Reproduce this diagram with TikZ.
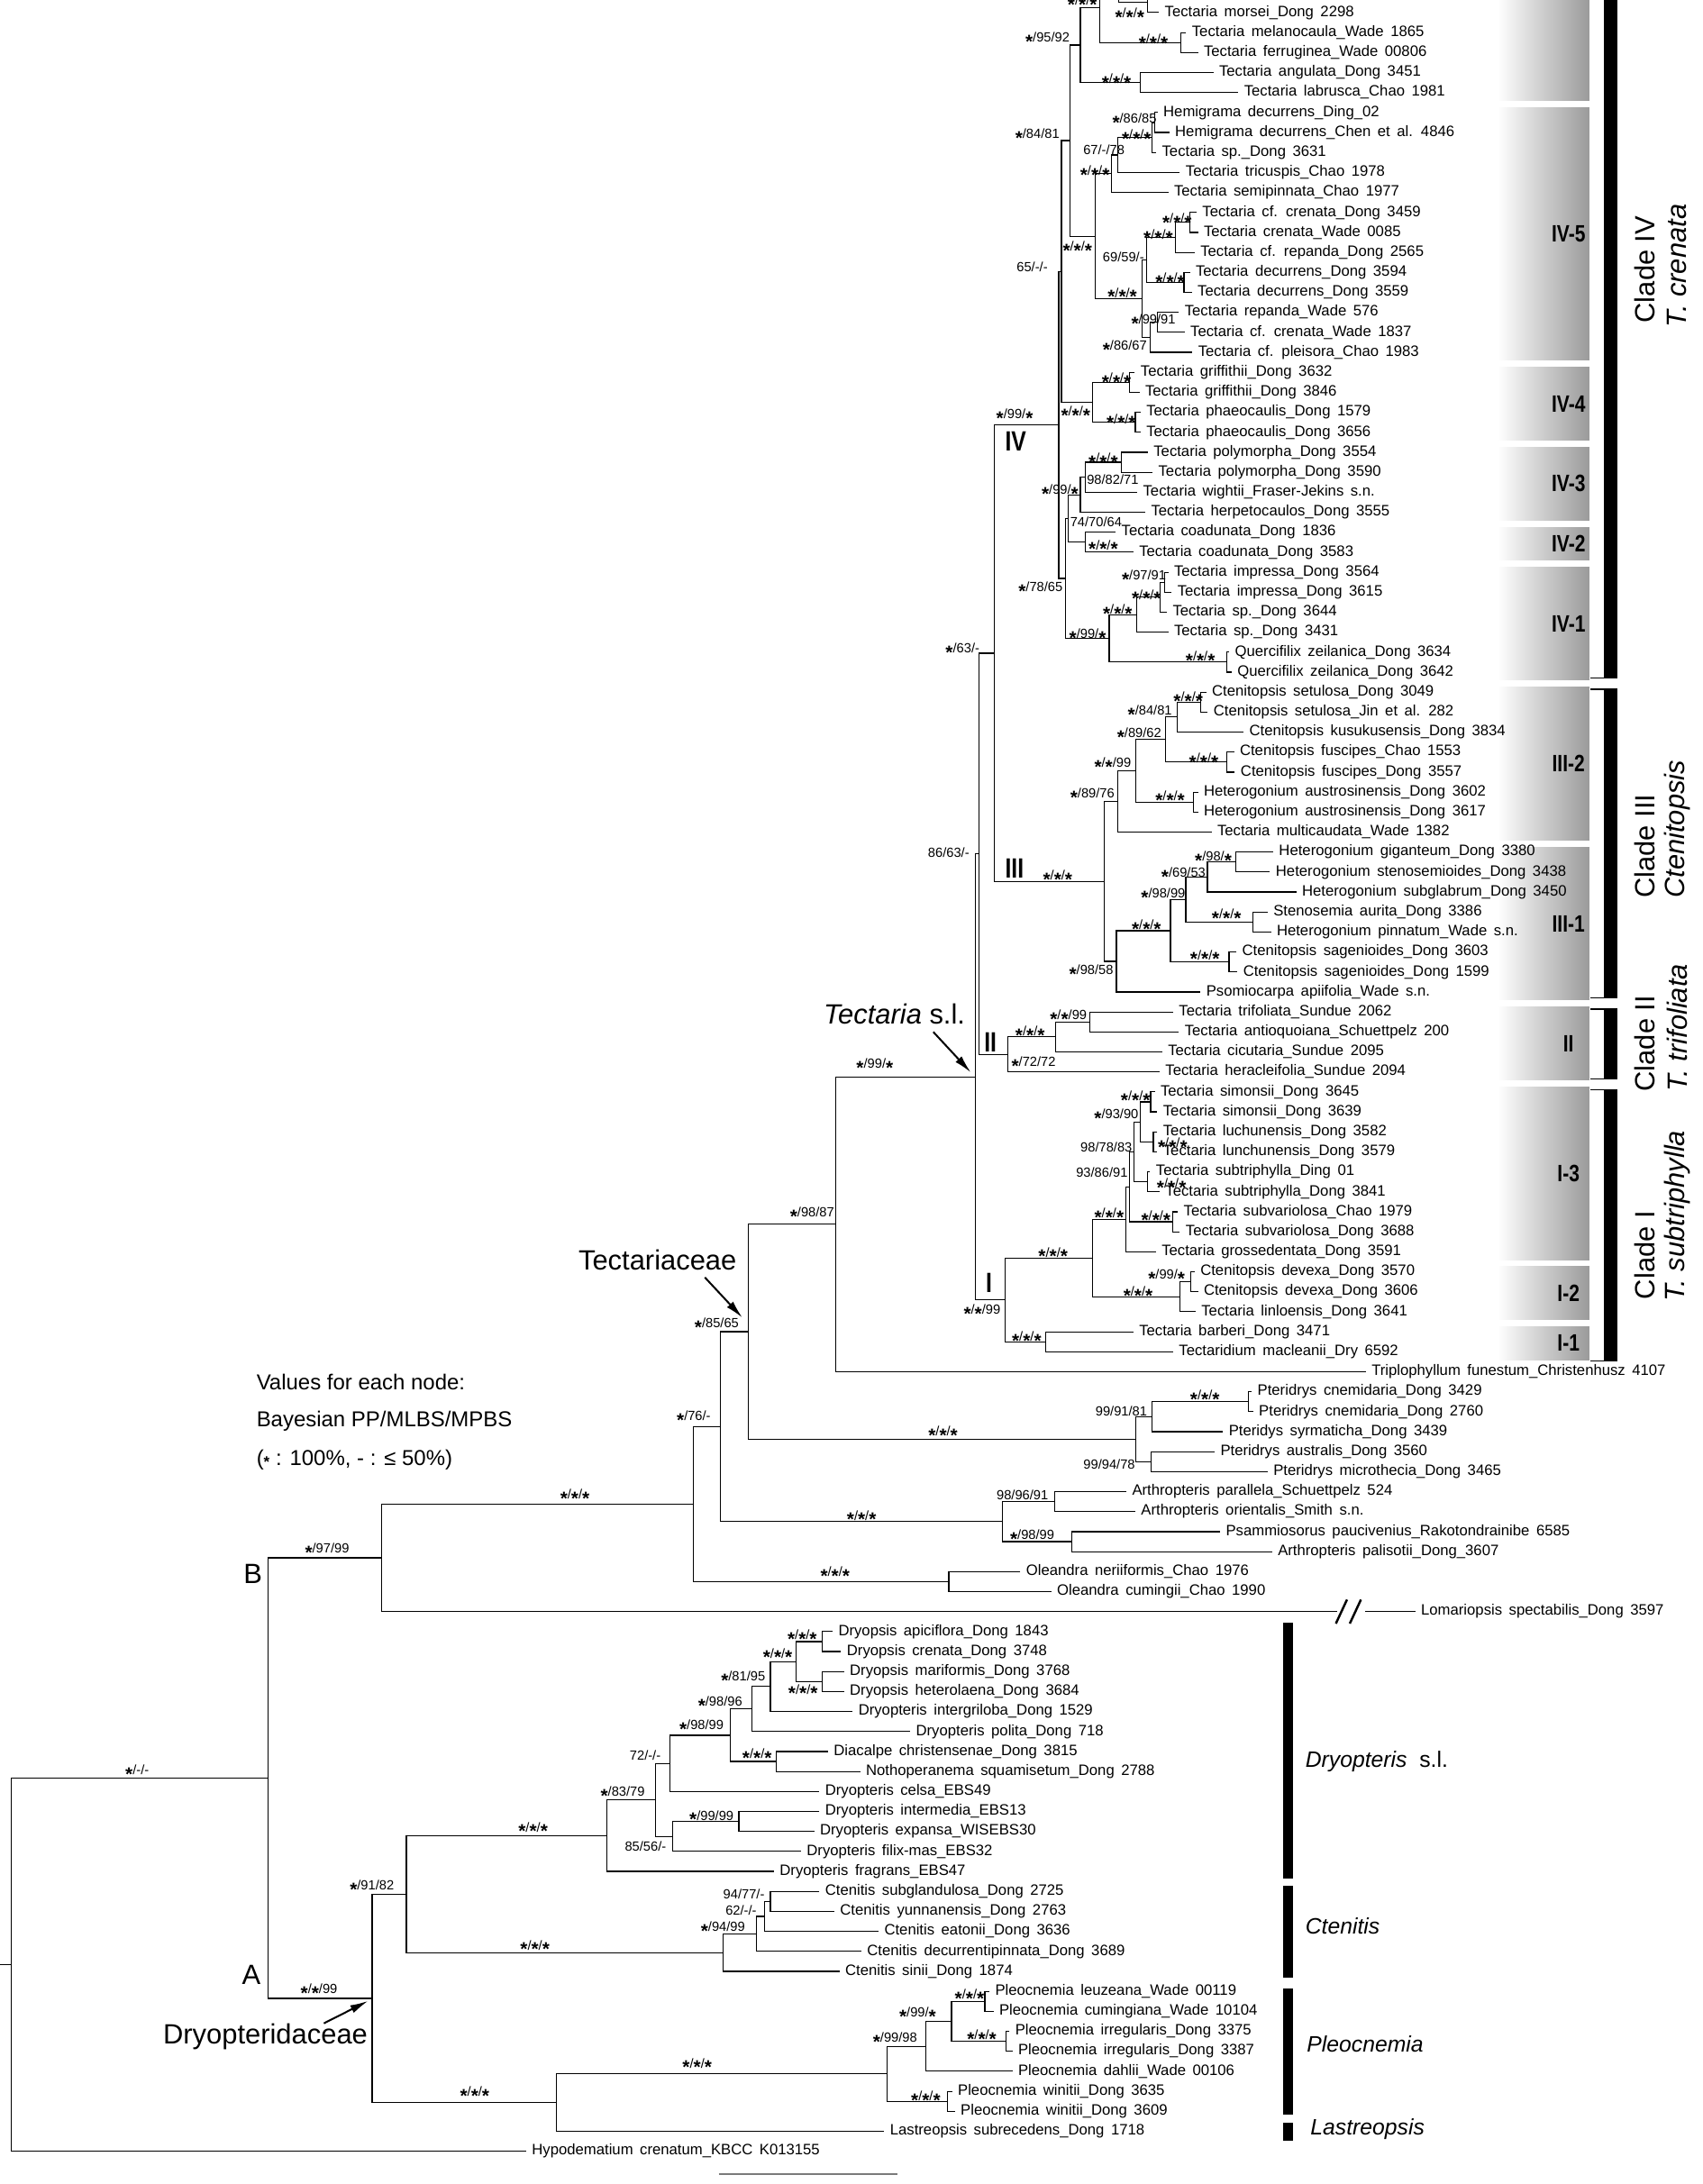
\documentclass[tikz,border=0pt]{standalone}
\usepackage{fontspec}
\setmainfont{Liberation Sans}
\newfontfamily\condfont[FakeStretch=0.8]{Liberation Sans}
\usetikzlibrary{calc, arrows.meta}
\definecolor{BoxGray}{HTML}{9A9A9A}
\definecolor{ScaleGray}{HTML}{7A7A7A}

\newcommand\tipfont{\fontsize{10.8}{12}\selectfont\spaceskip=0.45em plus 0.1em\relax}
\newcommand\st{{\fontsize{13.5}{13.5}\selectfont\bfseries\raisebox{-0.62ex}{*}}}
\newcommand\smallst{{\fontsize{11}{11}\selectfont\bfseries\raisebox{-0.3ex}{*}}}
% tip: name, x of branch end, row, text
\newcommand\tp[4]{\node[tip] (#1) at (#2,#3) {#4};}
% internal node: name, x, first child, last child
\newcommand\nd[4]{%
  \path ($(#3)!.5!(#4)$) coordinate (#1m);
  \coordinate (#1x) at (#2,0);
  \coordinate (#1) at (#1x |- #1m);}
\newcommand\cl[4]{\nd{#1}{#2}{#3}{#4}\draw[branch] (#3) -| (#1) |- (#4);}

\tikzset{
  branch/.style={line width=0.75pt},
  tip/.style={anchor=west, inner xsep=4pt, inner ysep=0pt, text height=7.8pt, text depth=2.3pt, font=\tipfont},
  sup/.style={inner sep=0pt, text height=6.8pt, text depth=0.5pt, font=\fontsize{9.5}{10}\selectfont},
  cladeno/.style={inner sep=0pt, font=\condfont\bfseries\fontsize{20}{20}\selectfont},
  subno/.style={inner sep=0pt, font=\condfont\bfseries\fontsize{17}{17}\selectfont},
  grouplab/.style={inner sep=0pt, font=\fontsize{20}{22}\selectfont},
  sidelab/.style={inner sep=0pt, rotate=90, anchor=west, font=\fontsize{20}{22}\selectfont},
  genlab/.style={inner sep=0pt, anchor=west, font=\itshape\fontsize{16}{18}\selectfont},
  legend/.style={inner sep=0pt, anchor=west, font=\fontsize{15.5}{17}\selectfont},
  pointer/.style={-{Latex[length=13pt,width=6pt]}, line width=1.3pt},
  subbox/.style={left color=white, right color=BoxGray},
  foot/.style={line width=0.9pt}
}

\begin{document}
\begin{tikzpicture}[x=1pt, y=-14.35pt]
\useasboundingbox (0,-0.6272) rectangle (1222,108.64);

% subclade boxes
\shade[subbox] (1075,-1.5) rectangle (1141,4.4);
\shade[subbox] (1075,4.75) rectangle (1141,17.4);
\shade[subbox] (1075,17.75) rectangle (1141,21.4);
\shade[subbox] (1075,21.75) rectangle (1141,25.4);
\shade[subbox] (1075,25.75) rectangle (1141,27.4);
\shade[subbox] (1075,27.75) rectangle (1141,33.4);
\shade[subbox] (1075,33.75) rectangle (1141,41.4);
\shade[subbox] (1075,41.75) rectangle (1141,49.4);
\shade[subbox] (1075,49.75) rectangle (1141,53.4);
\shade[subbox] (1075,53.75) rectangle (1141,62.4);
\shade[subbox] (1075,62.75) rectangle (1141,65.4);
\shade[subbox] (1075,65.75) rectangle (1141,67.4);
\node[subno] (bIV5) at (1126,11.075) {IV-5};
\node[subno] (bIV4) at (1126,19.575) {IV-4};
\node[subno] (bIV3) at (1126,23.575) {IV-3};
\node[subno] (bIV2) at (1126,26.575) {IV-2};
\node[subno] (bIV1) at (1126,30.575) {IV-1};
\node[subno] (bIII2) at (1126,37.575) {III-2};
\node[subno] (bIII1) at (1126,45.575) {III-1};
\node[subno] (bII) at (1126,51.575) {II};
\node[subno] (bI3) at (1126,58.075) {I-3};
\node[subno] (bI2) at (1126,64.075) {I-2};
\node[subno] (bI1) at (1126,66.575) {I-1};

% clade brackets
\fill (1151.5,-1.5) rectangle (1161,33.3);
\draw[foot] (1142,33.3) -- (1161,33.3);
\fill (1151.5,33.85) rectangle (1161,49.3);
\draw[foot] (1142,33.85) -- (1161,33.85) (1142,49.3) -- (1161,49.3);
\fill (1151.5,49.85) rectangle (1161,53.35);
\draw[foot] (1142,49.85) -- (1161,49.85) (1142,53.35) -- (1161,53.35);
\fill (1151.5,53.9) rectangle (1161,67.45);
\draw[foot] (1142,53.9) -- (1161,53.9) (1142,67.45) -- (1161,67.45);
\node[sidelab] (cIV) at (1181,15.54) {Clade IV};
\node[sidelab] (cIVb) at (1204,15.75) {\textit{T. crenata}};
\node[sidelab] (cIII) at (1181,44.32) {Clade III};
\node[sidelab] (cIIIb) at (1204,44.32) {\textit{Ctenitopsis}};
\node[sidelab] (cII) at (1181,54.0) {Clade II};
\node[sidelab] (cIIb) at (1204,54.0) {\textit{T. trifoliata}};
\node[sidelab] (cI) at (1181,64.39) {Clade I};
\node[sidelab] (cIb) at (1204,64.5) {\textit{T. subtriphylla}};

% tips, Tectariaceae
\tp{tm1}{831}{-1}{Tectaria  morsei\_Dong  3221}
\tp{t0}{832}{0}{Tectaria  morsei\_Dong  2298}
\tp{t1}{851.5}{1}{Tectaria  melanocaula\_Wade  1865}
\tp{t2}{860}{2}{Tectaria  ferruginea\_Wade  00806}
\tp{t3}{871}{3}{Tectaria  angulata\_Dong  3451}
\tp{t4}{889}{4}{Tectaria  labrusca\_Chao  1981}
\tp{t5}{831}{5}{Hemigrama  decurrens\_Ding\_02}
\tp{t6}{839.4}{6}{Hemigrama  decurrens\_Chen et al. 4846}
\tp{t7}{830}{7}{Tectaria  sp.\_Dong  3631}
\tp{t8}{847}{8}{Tectaria  tricuspis\_Chao  1978}
\tp{t9}{838.7}{9}{Tectaria  semipinnata\_Chao  1977}
\tp{t10}{859}{10}{Tectaria  cf.  crenata\_Dong  3459}
\tp{t11}{860}{11}{Tectaria  crenata\_Wade  0085}
\tp{t12}{857.6}{12}{Tectaria  cf.  repanda\_Dong  2565}
\tp{t13}{854.2}{13}{Tectaria  decurrens\_Dong  3594}
\tp{t14}{855.6}{14}{Tectaria  decurrens\_Dong  3559}
\tp{t15}{846.3}{15}{Tectaria  repanda\_Wade  576}
\tp{t16}{850.4}{16}{Tectaria  cf.  crenata\_Wade  1837}
\tp{t17}{856}{17}{Tectaria  cf.  pleisora\_Chao  1983}
\tp{t18}{814.7}{18}{Tectaria  griffithii\_Dong  3632}
\tp{t19}{818}{19}{Tectaria  griffithii\_Dong  3846}
\tp{t20}{818.8}{20}{Tectaria  phaeocaulis\_Dong  1579}
\tp{t21}{818.8}{21}{Tectaria  phaeocaulis\_Dong  3656}
\tp{t22}{824}{22}{Tectaria  polymorpha\_Dong  3554}
\tp{t23}{827.4}{23}{Tectaria  polymorpha\_Dong  3590}
\tp{t24}{816.4}{24}{Tectaria  wightii\_Fraser-Jekins  s.n.}
\tp{t25}{822.2}{25}{Tectaria  herpetocaulos\_Dong  3555}
\tp{t26}{800.9}{26}{Tectaria  coadunata\_Dong  1836}
\tp{t27}{813.6}{27}{Tectaria  coadunata\_Dong  3583}
\tp{t28}{838.7}{28}{Tectaria  impressa\_Dong  3564}
\tp{t29}{841.1}{29}{Tectaria  impressa\_Dong  3615}
\tp{t30}{837.7}{30}{Tectaria  sp.\_Dong  3644}
\tp{t31}{838.7}{31}{Tectaria  sp.\_Dong  3431}
\tp{t32}{882.4}{32}{Quercifilix  zeilanica\_Dong  3634}
\tp{t33}{884.2}{33}{Quercifilix  zeilanica\_Dong  3642}
\tp{t34}{865.9}{34}{Ctenitopsis  setulosa\_Dong  3049}
\tp{t35}{867}{35}{Ctenitopsis  setulosa\_Jin et al. 282}
\tp{t36}{892.7}{36}{Ctenitopsis  kusukusensis\_Dong  3834}
\tp{t37}{885.9}{37}{Ctenitopsis  fuscipes\_Chao  1553}
\tp{t38}{886.5}{38}{Ctenitopsis  fuscipes\_Dong  3557}
\tp{t39}{860}{39}{Heterogonium  austrosinensis\_Dong  3602}
\tp{t40}{860}{40}{Heterogonium  austrosinensis\_Dong  3617}
\tp{t41}{869.7}{41}{Tectaria  multicaudata\_Wade  1382}
\tp{t42}{914}{42}{Heterogonium  giganteum\_Dong 3380}
\tp{t43}{911.7}{43}{Heterogonium  stenosemioides\_Dong 3438}
\tp{t44}{930.6}{44}{Heterogonium  subglabrum\_Dong 3450}
\tp{t45}{910}{45}{Stenosemia  aurita\_Dong  3386}
\tp{t46}{912.4}{46}{Heterogonium  pinnatum\_Wade s.n.}
\tp{t47}{887.6}{47}{Ctenitopsis  sagenioides\_Dong  3603}
\tp{t48}{888.3}{48}{Ctenitopsis  sagenioides\_Dong  1599}
\tp{t49}{861.8}{49}{Psomiocarpa  apiifolia\_Wade  s.n.}
\tp{t50}{842.2}{50}{Tectaria  trifoliata\_Sundue  2062}
\tp{t51}{846.3}{51}{Tectaria  antioquoiana\_Schuettpelz  200}
\tp{t52}{834.3}{52}{Tectaria  cicutaria\_Sundue  2095}
\tp{t53}{832.5}{53}{Tectaria  heracleifolia\_Sundue  2094}
\tp{t54}{829}{54}{Tectaria  simonsii\_Dong  3645}
\tp{t55}{830.8}{55}{Tectaria  simonsii\_Dong  3639}
\tp{t56}{830.8}{56}{Tectaria  luchunensis\_Dong  3582}
\tp{t57}{830.8}{57}{Tectaria  lunchunensis\_Dong  3579}
\tp{t58}{825.7}{58}{Tectaria  subtriphylla\_Ding  01}
\tp{t59}{832.5}{59}{Tectaria  subtriphylla\_Dong  3841}
\tp{t60}{845.6}{60}{Tectaria  subvariolosa\_Chao  1979}
\tp{t61}{847}{61}{Tectaria  subvariolosa\_Dong  3688}
\tp{t62}{829.8}{62}{Tectaria  grossedentata\_Dong  3591}
\tp{t63}{857.6}{63}{Ctenitopsis  devexa\_Dong  3570}
\tp{t64}{860}{64}{Ctenitopsis  devexa\_Dong  3606}
\tp{t65}{858.3}{65}{Tectaria  linloensis\_Dong  3641}
\tp{t66}{813.6}{66}{Tectaria  barberi\_Dong  3471}
\tp{t67}{842.2}{67}{Tectaridium  macleanii\_Dry 6592}
\tp{t68}{980.5}{68}{Triplophyllum  funestum\_Christenhusz  4107}
\tp{t69}{898.6}{69}{Pteridrys  cnemidaria\_Dong  3429}
\tp{t70}{899.6}{70}{Pteridrys  cnemidaria\_Dong  2760}
\tp{t71}{878}{71}{Pteridys  syrmaticha\_Dong  3439}
\tp{t72}{872}{72}{Pteridrys  australis\_Dong  3560}
\tp{t73}{910}{73}{Pteridrys  microthecia\_Dong  3465}
\tp{t74}{808.6}{74}{Arthropteris  parallela\_Schuettpelz  524}
\tp{t75}{815}{75}{Arthropteris  orientalis\_Smith  s.n.}
\tp{t76}{875.9}{76}{Psammiosorus  paucivenius\_Rakotondrainibe  6585}
\tp{t77}{913.2}{77}{Arthropteris  palisotii\_Dong\_3607}
\tp{t78}{732.5}{78}{Oleandra  neriiformis\_Chao  1976}
\tp{t79}{754.6}{79}{Oleandra  cumingii\_Chao  1990}
\tp{t80}{1016}{80}{Lomariopsis  spectabilis\_Dong  3597}

% tips, Dryopteridaceae
\tp{t81}{597.7}{81}{Dryopsis  apiciflora\_Dong  1843}
\tp{t82}{603.8}{82}{Dryopsis  crenata\_Dong  3748}
\tp{t83}{605.9}{83}{Dryopsis  mariformis\_Dong  3768}
\tp{t84}{605.9}{84}{Dryopsis  heterolaena\_Dong  3684}
\tp{t85}{612.1}{85}{Dryopteris  intergriloba\_Dong  1529}
\tp{t86}{653.4}{86}{Dryopteris  polita\_Dong  718}
\tp{t87}{594.4}{87}{Diacalpe  christensenae\_Dong  3815}
\tp{t88}{617.5}{88}{Nothoperanema  squamisetum\_Dong  2788}
\tp{t89}{588.2}{89}{Dryopteris  celsa\_EBS49}
\tp{t90}{588.2}{90}{Dryopteris  intermedia\_EBS13}
\tp{t91}{584.5}{91}{Dryopteris  expansa\_WISEBS30}
\tp{t92}{575}{92}{Dryopteris  filix-mas\_EBS32}
\tp{t93}{555.6}{93}{Dryopteris  fragrans\_EBS47}
\tp{t94}{588.2}{94}{Ctenitis  subglandulosa\_Dong  2725}
\tp{t95}{598.9}{95}{Ctenitis  yunnanensis\_Dong  2763}
\tp{t96}{630.7}{96}{Ctenitis  eatonii\_Dong  3636}
\tp{t97}{618.3}{97}{Ctenitis  decurrentipinnata\_Dong  3689}
\tp{t98}{602.6}{98}{Ctenitis  sinii\_Dong  1874}
\tp{t99}{710.3}{99}{Pleocnemia  leuzeana\_Wade  00119}
\tp{t100}{713.2}{100}{Pleocnemia  cumingiana\_Wade  10104}
\tp{t101}{724.7}{101}{Pleocnemia  irregularis\_Dong  3375}
\tp{t102}{726.8}{102}{Pleocnemia  irregularis\_Dong  3387}
\tp{t103}{726.8}{103}{Pleocnemia  dahlii\_Wade  00106}
\tp{t104}{683.5}{104}{Pleocnemia  winitii\_Dong  3635}
\tp{t105}{685.5}{105}{Pleocnemia  winitii\_Dong  3609}
\tp{t106}{634.8}{106}{Lastreopsis  subrecedens\_Dong  1718}
\tp{t107}{377.7}{107}{Hypodematium  crenatum\_KBCC  K013155}

% clade IV
\coordinate (Hh) at (815,-3.5);
\cl{P1}{824}{tm1}{t0}
\cl{M}{803}{Hh}{P1}
\cl{MF}{847.9}{t1}{t2}
\cl{X}{789.4}{M}{MF}
\cl{AL}{818.6}{t3}{t4}
\cl{N9592}{775.6}{X}{AL}
\cl{N3}{829}{t5}{t6}
\cl{N2}{827}{N3}{t7}
\cl{N1}{802.5}{N2}{t8}
\cl{N0}{798}{N1}{t9}
\cl{CC}{854}{t10}{t11}
\cl{R}{843.7}{CC}{t12}
\cl{DP}{850}{t13}{t14}
\cl{Q}{823}{R}{DP}
\cl{RP}{830.7}{t15}{t16}
\cl{N8667}{825.5}{RP}{t17}
\cl{U}{820}{Q}{N8667}
\cl{IVfive}{786}{N0}{U}
\cl{N8481}{768}{N9592}{IVfive}
\cl{GP}{811}{t18}{t19}
\cl{PP}{815}{t20}{t21}
\cl{IVfour}{784.2}{GP}{PP}
\cl{N65}{762}{N8481}{IVfour}
\cl{PY}{804.9}{t22}{t23}
\cl{N988271}{779}{PY}{t24}
\cl{IVthree}{775.6}{N988271}{t25}
\cl{CO}{779}{t26}{t27}
\cl{N747064}{767}{IVthree}{CO}
\cl{IMP}{836}{t28}{t29}
\cl{BN}{833}{IMP}{t30}
\cl{AN}{816.2}{BN}{t31}
\cl{QP}{880.5}{t32}{t33}
\cl{IVone}{796.3}{AN}{QP}
\cl{N7865}{765}{N747064}{IVone}
\cl{IV}{760}{N65}{N7865}

% clade III
\cl{SP}{862}{t34}{t35}
\cl{N8481b}{845}{SP}{t36}
\cl{FP}{880.5}{t37}{t38}
\cl{N8962}{836.9}{N8481b}{FP}
\cl{AP}{857}{t39}{t40}
\cl{N99}{815.2}{N8962}{AP}
\cl{N8976}{802.5}{N99}{t41}
\cl{GS}{887.4}{t42}{t43}
\cl{N6953}{866.8}{GS}{t44}
\cl{SA}{899.5}{t45}{t46}
\cl{N9899}{851.3}{N6953}{SA}
\cl{SG}{882.3}{t47}{t48}
\cl{N3s}{840.3}{N9899}{SG}
\cl{N9858}{801.4}{N3s}{t49}
\cl{III}{792.8}{N8976}{N9858}
\cl{CL}{713.7}{IV}{III}

% clade II
\cl{TA}{782.5}{t50}{t51}
\cl{IIa}{757.7}{TA}{t52}
\cl{II}{723.3}{IIa}{t53}
\cl{N8663}{703}{CL}{II}

% clade I
\cl{SI}{826}{t54}{t55}
\cl{LU}{828}{t56}{t57}
\cl{N9390}{818.6}{SI}{LU}
\cl{STP}{824}{t58}{t59}
\cl{N987883}{814.1}{N9390}{STP}
\cl{SV}{842}{t60}{t61}
\cl{N938691}{811}{N987883}{SV}
\cl{Ithree}{808.5}{N938691}{t62}
\cl{DV}{855}{t63}{t64}
\cl{Itwo}{847.2}{DV}{t65}
\cl{I32}{784.2}{Ithree}{Itwo}
\cl{Ione}{750.8}{t66}{t67}
\cl{I}{721.3}{I32}{Ione}
\cl{TSL}{700}{N8663}{I}
\cl{N9887}{600}{TSL}{t68}

% rest of Tectariaceae, Oleandra, Lomariopsis
\cl{PC}{896}{t69}{t70}
\cl{N999181}{827.2}{PC}{t71}
\cl{N999478}{826.5}{t72}{t73}
\cl{PT}{815.2}{N999181}{N999478}
\cl{TEC}{537}{N9887}{PT}
\cl{ARone}{757.2}{t74}{t75}
\cl{ARtwo}{769.4}{t76}{t77}
\cl{AR}{719.4}{ARone}{ARtwo}
\cl{N76}{517}{TEC}{AR}
\cl{OL}{681.1}{t78}{t79}
\cl{N498}{498}{N76}{OL}
\nd{Bn}{274}{N498}{t80}
\coordinate (lomA) at (960,80);
\coordinate (lomB) at (980,80);
\draw[branch] (N498) -| (Bn) |- (lomA);
\draw[branch] (lomB) -- (t80);
\draw[line width=1.6pt] (959,80.6) -- (967,79.4) (969,80.6) -- (977,79.4);

% Dryopteridaceae
\cl{DA}{590.3}{t81}{t82}
\cl{DM}{590.3}{t83}{t84}
\cl{D4}{571.7}{DA}{DM}
\cl{D3}{553.1}{D4}{t85}
\cl{D2}{539.9}{D3}{t86}
\cl{DC}{557.3}{t87}{t88}
\cl{D1}{524.3}{D2}{DC}
\cl{D0}{481}{D1}{t89}
\cl{DE}{530.4}{t90}{t91}
\cl{D8556}{483}{DE}{t92}
\cl{D8379}{470.6}{D0}{D8556}
\cl{DRY}{435.5}{D8379}{t93}
\cl{C1}{553.1}{t94}{t95}
\cl{C2}{549}{C1}{t96}
\cl{C3}{542.8}{C2}{t97}
\cl{CT}{519.3}{C3}{t98}
\cl{D9182}{291.7}{DRY}{CT}
\cl{PL1}{707}{t99}{t100}
\cl{PL2}{722}{t101}{t102}
\cl{PL3}{683.1}{PL1}{PL2}
\cl{PL4}{664.5}{PL3}{t103}
\cl{PW}{680}{t104}{t105}
\cl{PL}{636.9}{PL4}{PW}
\cl{PLL}{399.4}{PL}{t106}
\cl{DRYFAM}{267.1}{D9182}{PLL}
\cl{AB}{192.5}{Bn}{DRYFAM}
\cl{ROOT}{8}{AB}{t107}
\coordinate (rs) at (0,0);
\draw[branch] (rs |- ROOT) -- (ROOT);

% support values
\node[sup] (sX) at (777,-0.59) {\st/\st/\st};
\node[sup] (sP1) at (811,0.05) {\st/\st/\st};
\node[sup] (s9592) at (752,1.25) {\st/95/92};
\node[sup] (sMF) at (828,1.33) {\st/\st/\st};
\node[sup] (sAL) at (801.5,3.31) {\st/\st/\st};
\node[sup] (s8481) at (744.7,6.06) {\st/84/81};
\node[sup] (sN3) at (814.4,5.31) {\st/86/85};
\node[sup] (sN2) at (815.9,6.13) {\st/\st/\st};
\node[sup] (sN1) at (792.5,6.89) {67/-/78};
\node[sup] (sN0) at (786,7.91) {\st/\st/\st};
\node[sup] (sIV5) at (773.5,11.7) {\st/\st/\st};
\node[sup] (sCC) at (845,10.3) {\st/\st/\st};
\node[sup] (sR) at (831.5,11.1) {\st/\st/\st};
\node[sup] (sQ) at (806.5,12.27) {69/59/-};
\node[sup] (s65) at (741,12.75) {65/-/-};
\node[sup] (sDP) at (840,13.28) {\st/\st/\st};
\node[sup] (sU) at (805.7,14.03) {\st/\st/\st};
\node[sup] (sRP) at (828,15.38) {\st/99/91};
\node[sup] (s8667) at (807.5,16.66) {\st/86/67};
\node[sup] (sGP) at (801.5,18.3) {\st/\st/\st};
\node[sup] (sIV4) at (772.2,19.96) {\st/\st/\st};
\node[sup] (sPP) at (804.9,20.34) {\st/\st/\st};
\node[sup] (sIV) at (728.4,20.11) {\st/99/\st};
\node[cladeno] (nIV) at (729.2,21.46) {IV};
\node[sup] (sPY) at (792,22.29) {\st/\st/\st};
\node[sup] (s988271) at (798.8,23.4) {98/82/71};
\node[sup] (sIV3) at (761,23.87) {\st/99/\st};
\node[sup] (s747064) at (786.8,25.52) {74/70/64};
\node[sup] (sCO) at (792,26.65) {\st/\st/\st};
\node[sup] (sIMP) at (821.2,28.15) {\st/97/91};
\node[sup] (s7865) at (747,28.75) {\st/78/65};
\node[sup] (sBN) at (823,29.13) {\st/\st/\st};
\node[sup] (sAN) at (802.3,29.88) {\st/\st/\st};
\node[sup] (sIV1) at (780.8,31.08) {\st/99/\st};
\node[sup] (sCL) at (691,31.83) {\st/63/-};
\node[sup] (sQP) at (861.7,32.21) {\st/\st/\st};
\node[sup] (sSP) at (853,34.24) {\st/\st/\st};
\node[sup] (s8481b) at (825.5,34.91) {\st/84/81};
\node[sup] (s8962) at (817.8,36.04) {\st/89/62};
\node[sup] (sFP) at (864.2,37.32) {\st/\st/\st};
\node[sup] (s99) at (798.8,37.55) {\st/\st/99};
\node[sup] (sAP) at (840,39.2) {\st/\st/\st};
\node[sup] (s8976) at (784.2,39.08) {\st/89/76};
\node[sup] (sGS) at (871,42.23) {\st/98/\st};
\node[sup] (s6953) at (849.6,43.03) {\st/69/53};
\node[cladeno] (nIII) at (728.3,42.8) {III};
\node[sup] (sIII) at (759.3,43.18) {\st/\st/\st};
\node[sup] (s9899) at (835,44.08) {\st/98/99};
\node[sup] (sSA) at (880.5,45.13) {\st/\st/\st};
\node[sup] (sN3s) at (823,45.65) {\st/\st/\st};
\node[sup] (sSG) at (865,47.16) {\st/\st/\st};
\node[sup] (s9858) at (783.4,47.91) {\st/98/58};
\node[sup, anchor=east] (s8663) at (696,42.05) {86/63/-};
\node[sup] (sTA) at (767,50.16) {\st/\st/99};
\node[sup] (sIIa) at (739.5,50.99) {\st/\st/\st};
\node[cladeno] (nII) at (711,51.5) {II};
\node[sup] (sII) at (742,52.49) {\st/72/72};
\node[sup] (sSI) at (815.2,54.22) {\st/\st/\st};
\node[sup] (s9390) at (801.4,55.12) {\st/93/90};
\node[sup] (sLU) at (841.8,56.55) {\st/\st/\st};
\node[sup] (s987883) at (794.2,56.77) {98/78/83};
\node[sup] (s938691) at (791,58.05) {93/86/91};
\node[sup] (sSTP) at (841,58.58) {\st/\st/\st};
\node[sup] (sI3) at (796.2,60.09) {\st/\st/\st};
\node[sup] (sSV) at (829.8,60.23) {\st/\st/\st};
\node[sup] (sI32) at (756,62.04) {\st/\st/\st};
\node[sup] (sDV) at (837.5,63.16) {\st/99/\st};
\node[sup] (sI2) at (817,63.99) {\st/\st/\st};
\node[cladeno] (nI) at (710,63.54) {I};
\node[sup] (sI) at (705,64.89) {\st/\st/99};
\node[sup] (sI1) at (737,66.24) {\st/\st/\st};
\node[sup] (s9887) at (583,60.05) {\st/98/87};
\node[sup] (sTSL) at (628,52.6) {\st/99/\st};
\node[sup] (sPC) at (865,69.17) {\st/\st/\st};
\node[sup] (s999181) at (805,70.0) {99/91/81};
\node[sup] (s999478) at (796.3,72.63) {99/94/78};
\node[sup] (sPT) at (677,71.0) {\st/\st/\st};
\node[sup] (s8565) at (514.5,65.56) {\st/85/65};
\node[sup] (s76) at (498,70.22) {\st/76/-};
\node[sup] (sN498) at (412.7,74.13) {\st/\st/\st};
\node[sup] (sBn) at (234.8,76.84) {\st/97/99};
\node[sup] (sAR) at (618.5,75.2) {\st/\st/\st};
\node[sup] (sOL) at (599.5,78.0) {\st/\st/\st};
\node[sup] (sAR1) at (734,74.18) {98/96/91};
\node[sup] (sAR2) at (741,76.17) {\st/98/99};
\node[sup] (sDA) at (575.9,81.19) {\st/\st/\st};
\node[sup] (sD4) at (558.3,82.1) {\st/\st/\st};
\node[sup] (sD3) at (533.5,83.23) {\st/81/95};
\node[sup] (sDM) at (576.5,83.9) {\st/\st/\st};
\node[sup] (sD2) at (517,84.5) {\st/98/96};
\node[sup] (sD1) at (503.6,85.7) {\st/98/99};
\node[sup] (sDC) at (543.5,87.13) {\st/\st/\st};
\node[sup] (sD0) at (463.2,87.2) {72/-/-};
\node[sup] (sD8379) at (447,89.01) {\st/83/79};
\node[sup] (sDE) at (510.8,90.21) {\st/99/99};
\node[sup] (sD8556) at (463.4,91.76) {85/56/-};
\node[sup] (sDRY) at (382.7,90.8) {\st/\st/\st};
\node[sup] (sD9182) at (267,93.71) {\st/91/82};
\node[sup] (sCT) at (384,96.7) {\st/\st/\st};
\node[sup] (sDRYFAM) at (229,98.89) {\st/\st/99};
\node[sup] (sAB) at (98.5,87.94) {\st/-/-};
\node[sup] (sPLL) at (340.8,104.03) {\st/\st/\st};
\node[sup] (sC1) at (534,94.17) {94/77/-};
\node[sup] (sC2) at (532,94.97) {62/-/-};
\node[sup] (sC3) at (519,95.77) {\st/94/99};
\node[sup] (sPL1) at (696,99.16) {\st/\st/\st};
\node[sup] (sPL3) at (658.8,100.06) {\st/99/\st};
\node[sup] (sPL2) at (704.8,101.19) {\st/\st/\st};
\node[sup] (sPL4) at (642.5,101.33) {\st/99/98};
\node[sup] (sPL) at (500.5,102.61) {\st/\st/\st};
\node[sup] (sPW) at (664.6,104.26) {\st/\st/\st};

% group names and pointers
\node[grouplab] (lTec) at (472,62.41) {Tectariaceae};
\coordinate (aTecS) at (506,63.28);
\coordinate (aTecE) at (533,65.3);
\draw[pointer] (aTecS) -- (aTecE);
\node[grouplab, anchor=east] (lTsl) at (693,50.1) {\textit{Tectaria} s.l.};
\coordinate (aTslS) at (670,51.0);
\coordinate (aTslE) at (697,53.03);
\draw[pointer] (aTslS) -- (aTslE);
\node[grouplab] (lDry) at (190.5,101.25) {Dryopteridaceae};
\coordinate (aDryS) at (232.5,100.6);
\coordinate (aDryE) at (264.3,99.48);
\draw[pointer] (aDryS) -- (aDryE);
\node[grouplab] (lA) at (180.5,98.19) {A};
\node[grouplab] (lB) at (181.5,78.12) {B};

% legend
\node[legend] (lg1) at (184,68.5) {Values for each node:};
\node[legend] (lg2) at (184,70.45) {Bayesian PP/MLBS/MPBS};
\node[legend] (lg3) at (184,72.4) {(\smallst{} : 100\%, - : ≤ 50\%)};

% genus bars, Dryopteridaceae
\fill (921,80.54) rectangle (928,93.36);
\fill (921,93.73) rectangle (928,98.33);
\fill (921,98.87) rectangle (928,105.17);
\fill (921,105.57) rectangle (928,106.48);
\node[genlab] (gDry) at (937,87.48) {Dryopteris\upshape\ \ s.l.};
\node[genlab] (gCte) at (937,95.73) {Ctenitis};
\node[genlab] (gPle) at (938,101.65) {Pleocnemia};
\node[genlab] (gLas) at (940.6,105.91) {Lastreopsis};

% scale bar
\draw[ScaleGray, line width=1pt] (516,108.15) -- (644,108.15);
\end{tikzpicture}
\end{document}
